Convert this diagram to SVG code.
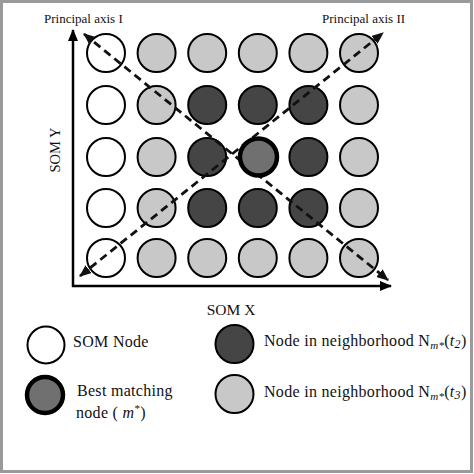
<svg xmlns="http://www.w3.org/2000/svg" width="474" height="474" viewBox="0 0 474 474">
<style>
.n{stroke:#000;stroke-width:2}
.w{fill:#fff}
.l{fill:#c8c8c8}
.d{fill:#454545}
.b{fill:#707070;stroke:#000;stroke-width:4.5}
.t{font-family:"Liberation Serif","Times New Roman",serif;fill:#111}
.lg{letter-spacing:0.3px}
.dash{stroke:#111;stroke-width:2.8;stroke-dasharray:8 5;fill:none}
.ax{stroke:#000;stroke-width:2.5;fill:none}
</style>
<defs>
<marker id="ah" markerWidth="12" markerHeight="10" refX="11" refY="5" orient="auto-start-reverse" markerUnits="userSpaceOnUse">
<path d="M0,0 L12,5 L0,10 Z" fill="#111"/>
</marker>
<marker id="axh" markerWidth="12" markerHeight="10" refX="11" refY="5" orient="auto" markerUnits="userSpaceOnUse">
<path d="M0,0 L12,5 L0,10 Z" fill="#000"/>
</marker>
</defs>
<rect x="0" y="0" width="474" height="474" fill="#fff"/>
<rect x="1.5" y="1.5" width="470" height="470" fill="none" stroke="#9a9a9a" stroke-width="3"/>

<g id="axes">
<path class="ax" d="M73,287 L73,30" marker-end="url(#axh)"/>
<path class="ax" d="M72,286 L391,286" marker-end="url(#axh)"/>
<text class="t" x="44" y="23" font-size="13">Principal axis I</text>
<text class="t" x="322" y="23" font-size="13">Principal axis II</text>
<text class="t" transform="translate(60,150) rotate(-90)" text-anchor="middle" font-size="14.5">SOM Y</text>
<text class="t" x="231" y="315" text-anchor="middle" font-size="15.5">SOM X</text>
</g>

<g id="grid">
<g id="r1">
<circle id="n11" class="n w" cx="106" cy="53" r="19"/>
<circle id="n12" class="n l" cx="156.6" cy="53" r="19"/>
<circle id="n13" class="n l" cx="207.2" cy="53" r="19"/>
<circle id="n14" class="n l" cx="257.8" cy="53" r="19"/>
<circle id="n15" class="n l" cx="308.4" cy="53" r="19"/>
<circle id="n16" class="n l" cx="359" cy="53" r="19"/>
</g>
<g id="r2">
<circle id="n21" class="n w" cx="106" cy="105" r="19"/>
<circle id="n22" class="n l" cx="156.6" cy="105" r="19"/>
<circle id="n23" class="n d" cx="207.2" cy="105" r="19"/>
<circle id="n24" class="n d" cx="257.8" cy="105" r="19"/>
<circle id="n25" class="n d" cx="308.4" cy="105" r="19"/>
<circle id="n26" class="n l" cx="359" cy="105" r="19"/>
</g>
<g id="r3">
<circle id="n31" class="n w" cx="106" cy="157" r="19"/>
<circle id="n32" class="n l" cx="156.6" cy="157" r="19"/>
<circle id="n33" class="n d" cx="207.2" cy="157" r="19"/>
<circle id="n35" class="n d" cx="308.4" cy="157" r="19"/>
<circle id="n36" class="n l" cx="359" cy="157" r="19"/>
</g>
<g id="r4">
<circle id="n41" class="n w" cx="106" cy="208" r="19"/>
<circle id="n42" class="n l" cx="156.6" cy="208" r="19"/>
<circle id="n43" class="n d" cx="207.2" cy="208" r="19"/>
<circle id="n44" class="n d" cx="257.8" cy="208" r="19"/>
<circle id="n45" class="n d" cx="308.4" cy="208" r="19"/>
<circle id="n46" class="n l" cx="359" cy="208" r="19"/>
</g>
<g id="r5">
<circle id="n51" class="n w" cx="106" cy="258" r="19"/>
<circle id="n52" class="n l" cx="156.6" cy="258" r="19"/>
<circle id="n53" class="n l" cx="207.2" cy="258" r="19"/>
<circle id="n54" class="n l" cx="257.8" cy="258" r="19"/>
<circle id="n55" class="n l" cx="308.4" cy="258" r="19"/>
<circle id="n56" class="n l" cx="359" cy="258" r="19"/>
</g>
</g>

<g id="connectors">
<line class="dash" x1="84" y1="34" x2="388" y2="280" marker-start="url(#ah)" marker-end="url(#ah)"/>
<line class="dash" x1="80" y1="276" x2="383" y2="33" marker-start="url(#ah)" marker-end="url(#ah)"/>
</g>

<g id="bmu">
<circle class="b" cx="258.5" cy="157" r="18.5"/>
</g>

<g id="legend">
<g id="leg-som">
<circle class="n w" cx="46" cy="345" r="18.5"/>
<text class="t lg" x="73" y="347" font-size="16">SOM Node</text>
</g>
<g id="leg-bmu">
<circle class="b" cx="45" cy="395" r="18"/>
<text class="t lg" x="77" y="396" font-size="16">Best matching</text>
<text class="t lg" x="76" y="418" font-size="16">node ( <tspan font-style="italic">m</tspan><tspan font-size="11" dy="-6">*</tspan><tspan dy="6">)</tspan></text>
</g>
<g id="leg-t2">
<circle class="n d" cx="234.5" cy="344" r="19"/>
<text class="t lg" x="264" y="346" font-size="16">Node in neighborhood N<tspan font-size="11" font-style="italic" dy="3">m*</tspan><tspan dy="-3">(</tspan><tspan font-style="italic">t</tspan><tspan font-size="12" font-style="italic" dy="2">2</tspan><tspan dy="-2">)</tspan></text>
</g>
<g id="leg-t3">
<circle class="n l" cx="234.5" cy="394" r="19"/>
<text class="t lg" x="264" y="397" font-size="16">Node in neighborhood N<tspan font-size="11" font-style="italic" dy="3">m*</tspan><tspan dy="-3">(</tspan><tspan font-style="italic">t</tspan><tspan font-size="12" font-style="italic" dy="2">3</tspan><tspan dy="-2">)</tspan></text>
</g>
</g>
</svg>
